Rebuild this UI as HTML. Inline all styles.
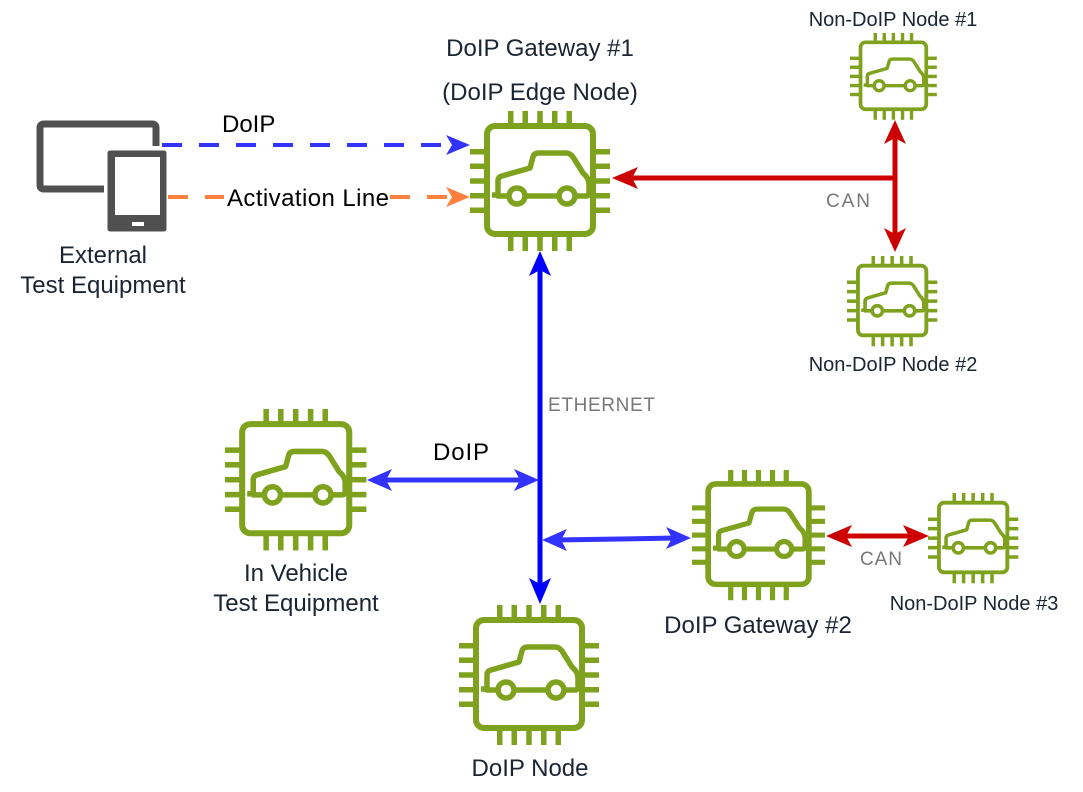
<!DOCTYPE html>
<html><head><meta charset="utf-8"><style>
html,body{margin:0;padding:0;background:#fff;}
svg{display:block;}
text{font-family:"Liberation Sans",Arial,sans-serif;}
</style></head><body>
<svg width="1083" height="792" viewBox="0 0 1083 792" xmlns="http://www.w3.org/2000/svg">
<defs>
<g id="chip">
  <g fill="#7ea21d">
    <rect x="38" y="0" width="5.5" height="16"/><rect x="52.5" y="0" width="5.5" height="16"/><rect x="67.25" y="0" width="5.5" height="16"/><rect x="82" y="0" width="5.5" height="16"/><rect x="96.5" y="0" width="5.5" height="16"/>
    <rect x="38" y="124" width="5.5" height="16"/><rect x="52.5" y="124" width="5.5" height="16"/><rect x="67.25" y="124" width="5.5" height="16"/><rect x="82" y="124" width="5.5" height="16"/><rect x="96.5" y="124" width="5.5" height="16"/>
    <rect y="38" x="0" height="5.5" width="16"/><rect y="52.5" x="0" height="5.5" width="16"/><rect y="67.25" x="0" height="5.5" width="16"/><rect y="82" x="0" height="5.5" width="16"/><rect y="96.5" x="0" height="5.5" width="16"/>
    <rect y="38" x="124" height="5.5" width="16"/><rect y="52.5" x="124" height="5.5" width="16"/><rect y="67.25" x="124" height="5.5" width="16"/><rect y="82" x="124" height="5.5" width="16"/><rect y="96.5" x="124" height="5.5" width="16"/>
  </g>
  <rect x="17" y="15" width="106" height="108" rx="8" fill="#fff" stroke="#7ea21d" stroke-width="6"/>
  <g fill="none" stroke="#7ea21d" stroke-width="5.5" stroke-linejoin="round">
    <path d="M39 85 L28 85 L28 70 Q28 66 32 65 L60 57 L63 46 Q64 42 69 42 L96 42 Q100 42 103 46 L113 62 Q119 67 119 73 L119 82 Q119 85 116 85 L105 85 M89 85 L55 85"/>
    <circle cx="47" cy="85" r="8"/><circle cx="97" cy="85" r="8"/>
    <path d="M22 84 L28 84"/>
  </g>
</g>
</defs>

<!-- Device icon -->
<path d="M104 189 L44 189 Q40 189 40 185 L40 128 Q40 124 44 124 L152 124 Q156 124 156 128 L156 146" fill="none" stroke="#505050" stroke-width="7"/>
<rect x="106" y="149" width="62" height="84" rx="4" fill="#505050" stroke="#fff" stroke-width="3"/>
<rect x="115" y="157" width="45" height="58" fill="#fff"/>
<rect x="132" y="222" width="12" height="4" fill="#fff"/>

<!-- Dashed DoIP -->
<line x1="162" y1="145" x2="450" y2="145" stroke="#3333ff" stroke-width="4" stroke-dasharray="20,17"/>
<path d="M470 145 L446 135 L452 145 L446 155 Z" fill="#3333ff"/>
<line x1="168" y1="197" x2="450" y2="197" stroke="#ff7f3f" stroke-width="4" stroke-dasharray="20,17"/>
<path d="M470 197 L446 187 L452 197 L446 207 Z" fill="#ff7f3f"/>
<rect x="224" y="184" width="166" height="26" fill="#fff"/>
<text x="222" y="132" font-size="24" fill="#000">DoIP</text>
<text x="227" y="206" font-size="24" fill="#000" textLength="162">Activation Line</text>

<!-- CAN red top -->
<line x1="895" y1="178" x2="630" y2="178" stroke="#cc0000" stroke-width="5"/>
<path d="M612 178 L638 167 L632 178 L638 189 Z" fill="#cc0000"/>
<line x1="895" y1="135" x2="895" y2="238" stroke="#cc0000" stroke-width="5"/>
<path d="M895 120 L884 144 L895 138 L906 144 Z" fill="#cc0000"/>
<path d="M895 252 L884 228 L895 234 L906 228 Z" fill="#cc0000"/>
<text x="826" y="207" font-size="19" fill="#777" textLength="44">CAN</text>

<!-- Ethernet -->
<line x1="540" y1="268" x2="540" y2="590" stroke="#0000ff" stroke-width="5"/>
<path d="M540 251 L529 276 L540 270 L551 276 Z" fill="#0000ff"/>
<path d="M540 604 L529 578 L540 584 L551 578 Z" fill="#0000ff"/>
<text x="548" y="411" font-size="19" fill="#777" textLength="107">ETHERNET</text>

<!-- DoIP in-vehicle -->
<line x1="380" y1="480" x2="525" y2="480" stroke="#3333ff" stroke-width="5"/>
<path d="M367 480 L392 469 L386 480 L392 491 Z" fill="#3333ff"/>
<path d="M539 480 L514 469 L520 480 L514 491 Z" fill="#3333ff"/>
<text x="433" y="460" font-size="24" fill="#000" textLength="56">DoIP</text>

<!-- to GW2 -->
<path d="M555 540 L620 539 L676 538" fill="none" stroke="#3333ff" stroke-width="5"/>
<path d="M542 540 L567 529 L561 540 L567 551 Z" fill="#3333ff"/>
<path d="M691 538 L666 527 L672 538 L666 549 Z" fill="#3333ff"/>

<!-- CAN GW2 -> N3 -->
<line x1="840" y1="536" x2="915" y2="536" stroke="#cc0000" stroke-width="5"/>
<path d="M826 536 L852 525 L846 536 L852 547 Z" fill="#cc0000"/>
<path d="M929 536 L903 525 L909 536 L903 547 Z" fill="#cc0000"/>
<text x="860" y="565" font-size="19" fill="#777" textLength="42">CAN</text>

<!-- Chips -->
<use href="#chip" transform="translate(470,111)"/>
<use href="#chip" transform="translate(850,33) scale(0.62)"/>
<use href="#chip" transform="translate(847,256) scale(0.645)"/>
<use href="#chip" transform="translate(225,409) scale(1.01)"/>
<use href="#chip" transform="translate(692,470) scale(0.95,0.93)"/>
<use href="#chip" transform="translate(928,493) scale(0.645)"/>
<use href="#chip" transform="translate(459,605)"/>

<!-- Labels -->
<g font-size="24" fill="#1a2433" text-anchor="middle">
<text x="540" y="56">DoIP Gateway #1</text>
<text x="540" y="100">(DoIP Edge Node)</text>
<text x="103" y="263">External</text>
<text x="103" y="293">Test Equipment</text>
<text x="296" y="581">In Vehicle</text>
<text x="296" y="611">Test Equipment</text>
<text x="758" y="633">DoIP Gateway #2</text>
<text x="530" y="776">DoIP Node</text>
</g>
<g font-size="20" fill="#1a2433" text-anchor="middle">
<text x="893" y="26">Non-DoIP Node #1</text>
<text x="893" y="371">Non-DoIP Node #2</text>
<text x="974" y="610">Non-DoIP Node #3</text>
</g>
</svg>
</body></html>
